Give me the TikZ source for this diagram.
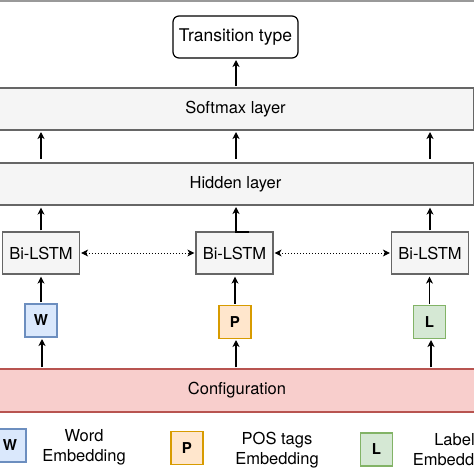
\documentclass[tikz,border=0pt]{standalone}
\usepackage{fontspec}
\setmainfont{TeX Gyre Heros}
\usetikzlibrary{arrows.meta}
\definecolor{grayfill}{HTML}{F5F5F5}
\definecolor{graystroke}{HTML}{666666}
\definecolor{bluefill}{HTML}{DAE8FC}
\definecolor{bluestroke}{HTML}{6C8EBF}
\definecolor{orgfill}{HTML}{FFE6CC}
\definecolor{orgstroke}{HTML}{D79B00}
\definecolor{grnfill}{HTML}{D5E8D4}
\definecolor{grnstroke}{HTML}{82B366}
\definecolor{redfill}{HTML}{F8CECC}
\definecolor{redstroke}{HTML}{B85450}
\tikzset{
  every node/.style={font=\fontsize{16.5}{20}\selectfont, inner sep=0pt, align=center},
  layerbox/.style={draw=graystroke, fill=grayfill, line width=1.2pt, minimum height=42pt, minimum width=477pt},
  lstmbox/.style={draw=graystroke, fill=grayfill, line width=1.2pt, minimum height=42pt, minimum width=77pt},
  embbox/.style={line width=1.2pt, minimum width=32pt, minimum height=33pt, font=\fontsize{15}{18}\selectfont\bfseries},
  wbox/.style={embbox, draw=bluestroke, fill=bluefill},
  pbox/.style={embbox, draw=orgstroke, fill=orgfill},
  lbox/.style={embbox, draw=grnstroke, fill=grnfill},
  arr/.style={-{Stealth[length=7pt,width=7pt,inset=2pt]}, line width=1.3pt, shorten >=2pt, shorten <=1pt},
  darr/.style={{Stealth[length=7pt,width=7pt,inset=2pt]}-{Stealth[length=7pt,width=7pt,inset=2pt]}, line width=1pt, dotted, shorten >=1pt, shorten <=1pt},
}
\begin{document}
\begin{tikzpicture}[x=1pt,y=-1pt]
\useasboundingbox (0,0) rectangle (474,474);
\fill[white] (0,0) rectangle (474,474);
\draw[line width=2pt, color=black!40] (0,0.8) -- (474,0.8);

\node[draw=black, rounded corners=6pt, line width=1.2pt, fill=white, minimum width=125pt, minimum height=42pt, font=\fontsize{17.5}{20}\selectfont] (tt) at (235.5,37) {Transition type};

\node[layerbox] (soft) at (235.5,109) {Softmax layer};
\node[layerbox] (hid) at (235.5,184) {Hidden layer};

\node[lstmbox] (b1) at (41,253) {Bi-LSTM};
\node[lstmbox] (b2) at (234.5,253) {Bi-LSTM};
\node[lstmbox] (b3) at (430,253) {Bi-LSTM};

\node[wbox] (w) at (41,320.5) {W};
\node[pbox] (p) at (235,322) {P};
\node[lbox] (l) at (429.5,322) {L};

\node[draw=redstroke, fill=redfill, line width=1.2pt, minimum width=480pt, minimum height=43pt] (cfg) at (237,390.5) {Configuration};

% legend
\node[wbox] (lw) at (10,445.5) {W};
\node (tw) at (84,447) {Word\\Embedding};
\node[pbox] (lp) at (187,448) {P};
\node (tp) at (277,450) {POS tags\\Embedding};
\node[lbox] (ll) at (376.5,449.5) {L};
\node (tl) at (454.5,451) {Label\\Embedding};

% arrows
\draw[arr, shorten <=2pt] (236,88) -- (236,58);
\foreach \x in {41, 236, 430} {
  \draw[arr, shorten <=4pt] (\x,163) -- (\x,130);
}
\draw[arr] (b1.north) -- (b1.north |- hid.south);
\draw[arr] (250,232) -- (236,232) -- (236,205);
\draw[arr] (b3.north) -- (b3.north |- hid.south);

\draw[arr] (w.north) -- (w.north |- b1.south);
\draw[arr] (p.north) -- (p.north |- b2.south);
\draw[arr] (l.north) -- (l.north |- b3.south);

\draw[arr] (cfg.north -| 42,0) -- (42,337);
\draw[arr] (cfg.north -| 236,0) -- (236,338);
\draw[arr] (cfg.north -| 431,0) -- (431,338);

\draw[darr] (b1.east) -- (b2.west);
\draw[darr] (b2.east) -- (b3.west);
\end{tikzpicture}
\end{document}
